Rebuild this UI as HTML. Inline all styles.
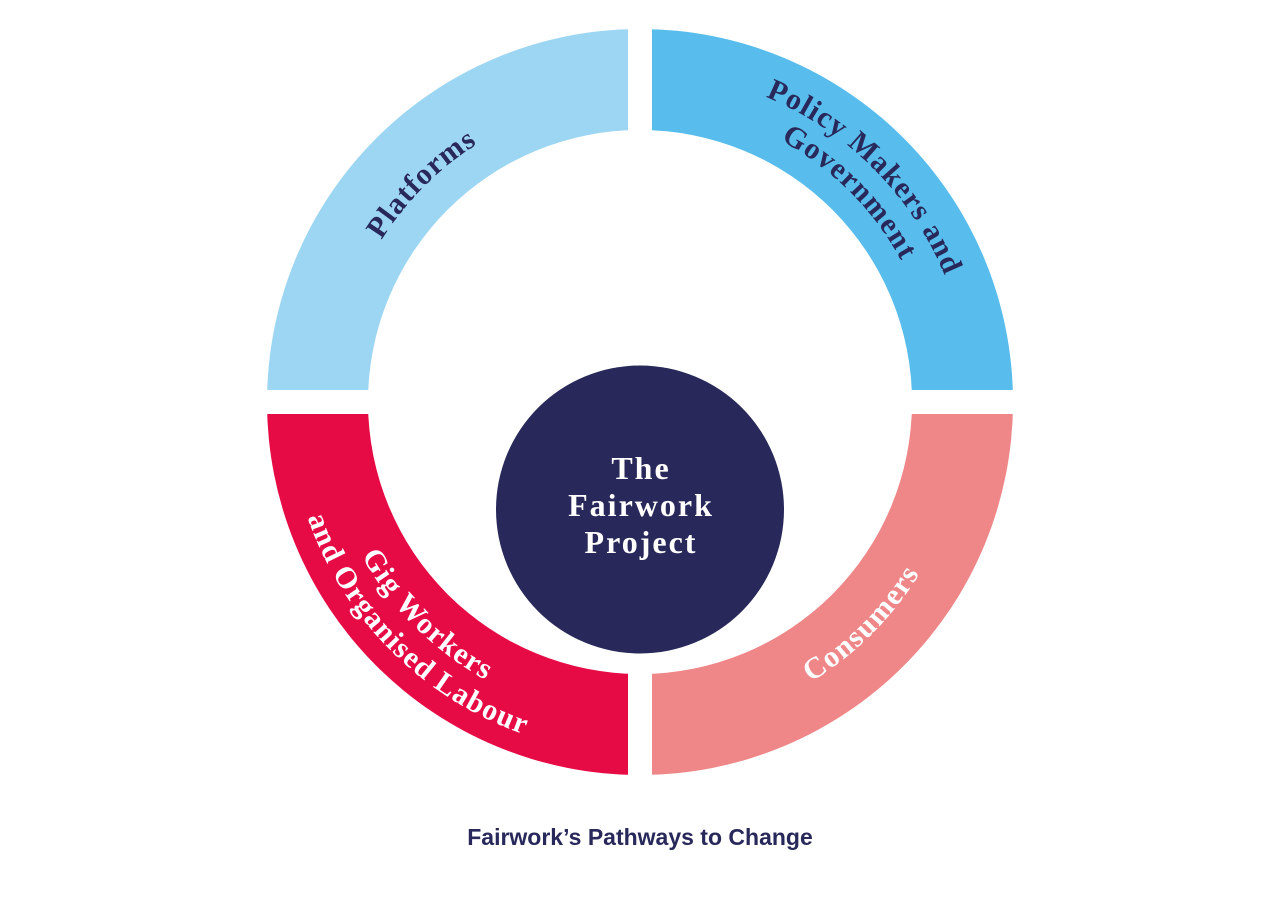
<!DOCTYPE html>
<html><head><meta charset="utf-8"><style>
html,body{margin:0;padding:0;background:#fff;width:1280px;height:902px;overflow:hidden}
svg{display:block}
.t{font-family:"Liberation Serif",serif;font-weight:bold;font-size:30px;letter-spacing:1.2px}
</style></head><body>
<svg width="1280" height="902" viewBox="0 0 1280 902">
<defs>
<path id="pTL" d="M 335 402 A 305 305 0 0 1 640 97"/>
<path id="pTR1" d="M 640 72 A 330 330 0 0 1 970 402"/>
<path id="pTR2" d="M 640 105 A 297 297 0 0 1 937 402"/>
<path id="pBR" d="M 640 730 A 328 328 0 0 0 968 402"/>
<path id="pBL1" d="M 322 402 A 318 318 0 0 0 640 720"/>
<path id="pBL2" d="M 288 402 A 352 352 0 0 0 640 754"/>
</defs>
<path d="M 267 402 A 373 373 0 0 1 640 29 L 640 130 A 272 272 0 0 0 368 402 Z" fill="#9dd6f3"/>
<path d="M 640 29 A 373 373 0 0 1 1013 402 L 912 402 A 272 272 0 0 0 640 130 Z" fill="#58bdec"/>
<path d="M 267 402 A 373 373 0 0 0 640 775 L 640 674 A 272 272 0 0 1 368 402 Z" fill="#e60a45"/>
<path d="M 1013 402 A 373 373 0 0 1 640 775 L 640 674 A 272 272 0 0 0 912 402 Z" fill="#ef8687"/>
<rect x="628" y="0" width="24" height="800" fill="#fff"/>
<rect x="200" y="390" width="880" height="24" fill="#fff"/>
<circle cx="640" cy="509.5" r="144" fill="#28285a"/>
<text class="t" fill="#28285a"><textPath href="#pTL" startOffset="50%" text-anchor="middle">Platforms</textPath></text>
<text class="t" fill="#28285a"><textPath href="#pTR1" startOffset="50%" text-anchor="middle">Policy Makers and</textPath></text>
<text class="t" fill="#28285a"><textPath href="#pTR2" startOffset="50%" text-anchor="middle">Government</textPath></text>
<text class="t" fill="#fff"><textPath href="#pBR" startOffset="50%" text-anchor="middle">Consumers</textPath></text>
<text class="t" fill="#fff"><textPath href="#pBL1" startOffset="50%" text-anchor="middle">Gig Workers</textPath></text>
<text class="t" fill="#fff"><textPath href="#pBL2" startOffset="50%" text-anchor="middle">and Organised Labour</textPath></text>
<g class="t" fill="#fff" text-anchor="middle" style="font-size:32px;letter-spacing:2px">
<text x="641" y="479">The</text>
<text x="641" y="516">Fairwork</text>
<text x="641" y="553">Project</text>
</g>
<text x="640" y="845" text-anchor="middle" fill="#28285a" style="font-family:'Liberation Sans',sans-serif;font-weight:bold;font-size:23px">Fairwork’s Pathways to Change</text>
</svg>
</body></html>
